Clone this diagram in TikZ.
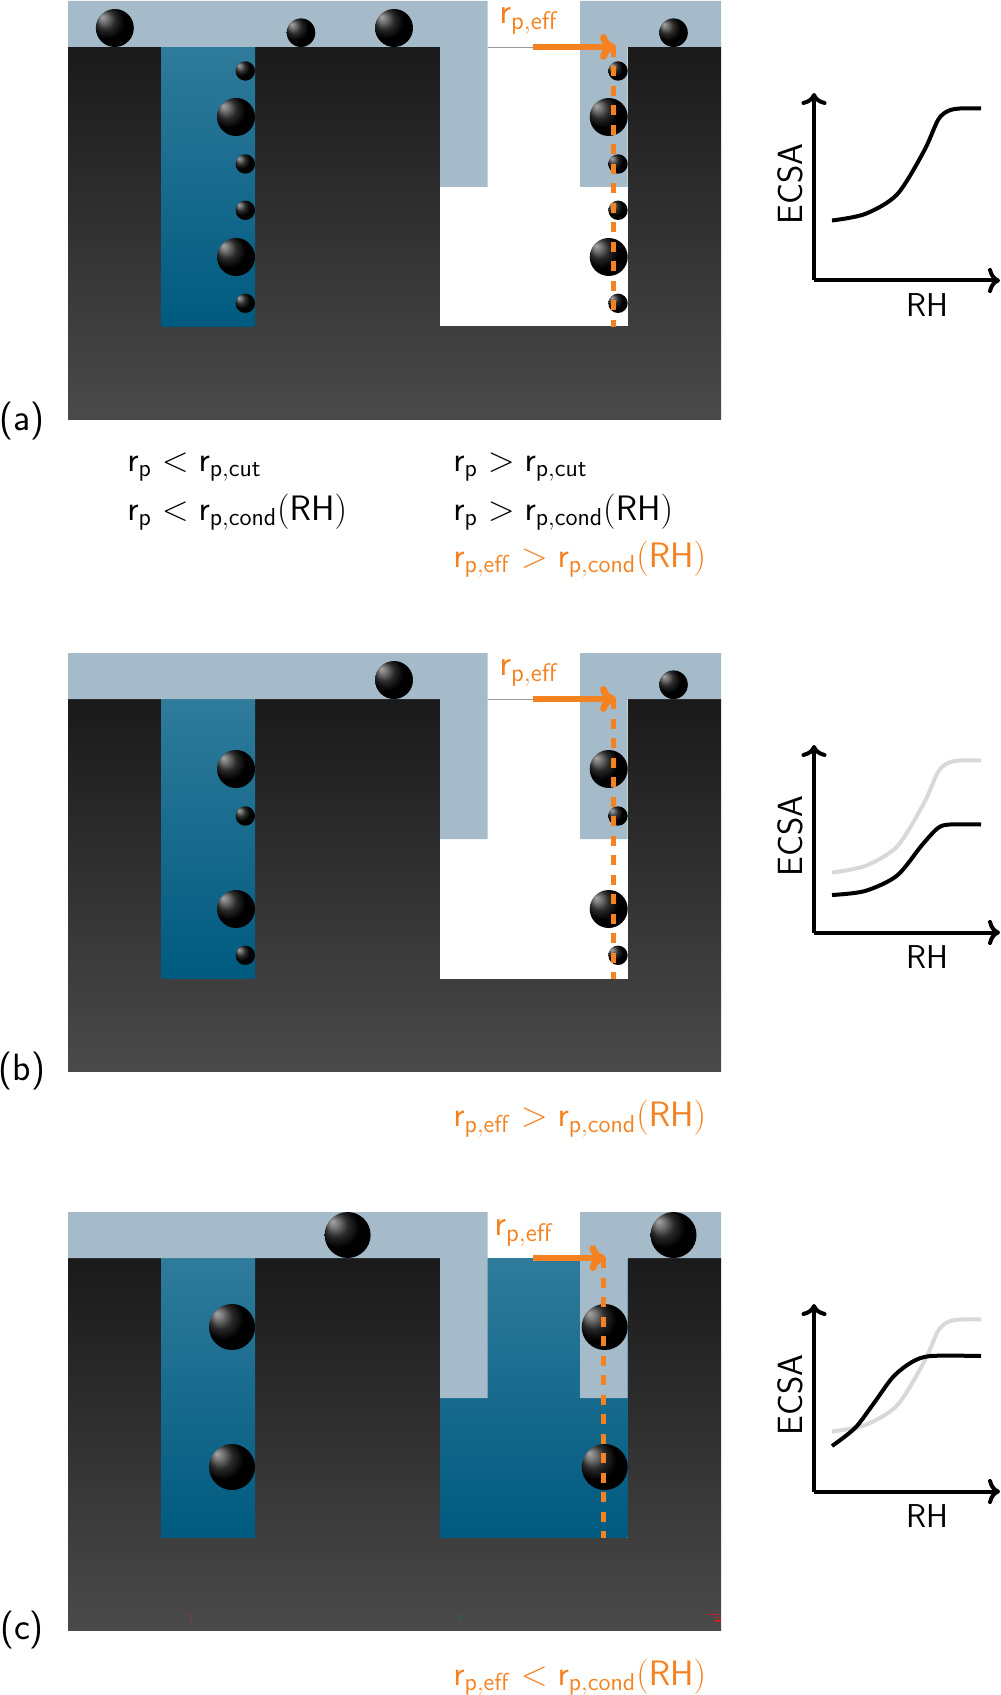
\documentclass[tikz,border=0pt]{standalone}
\usepackage{amsmath}
\usepackage{amssymb}
\usepackage{tikz}
\usetikzlibrary{arrows.meta}
\usepackage{xcolor}
\definecolor{ionomer}{HTML}{A5BBC9}
\definecolor{rpeff}{HTML}{F58220}
\definecolor{curvegray}{HTML}{D8D8D8}
\definecolor{watertop}{HTML}{2F7B9B}
\definecolor{waterbot}{HTML}{005A80}
\pgfdeclareradialshading{sphere}{\pgfpoint{-17bp}{15bp}}{%
  color(0bp)=(black!35!white);
  color(5bp)=(black!52!white);
  color(13bp)=(black!84!white);
  color(22bp)=(black);
  color(50bp)=(black)}
\tikzset{
  carbon/.style={top color=black!90!white, bottom color=black!71!white, draw=none},
  water/.style={top color=watertop, bottom color=waterbot, draw=none},
  sphere/.style={shading=sphere},
  axisline/.style={line width=2pt, ->},
  curveline/.style={line width=2pt, line join=round},
  txt/.style={inner sep=0pt, font=\fontsize{16.5}{18}\selectfont\sffamily},
  cond/.style={inner sep=0pt, anchor=west, scale=1.022, font=\fontsize{17.28}{19}\selectfont},
  efflabel/.style={inner sep=0pt, anchor=west, scale=1.06, text=rpeff, font=\fontsize{17.28}{20}\selectfont},
  panellabel/.style={inner sep=0pt, font=\fontsize{19}{21}\selectfont\sffamily},
  rpline/.style={rpeff, line width=2.8pt, dash pattern=on 5pt off 4.75pt},
  rparrow/.style={rpeff, line width=3.4pt, -{To[round,length=8pt,width=13pt]}},
  speck/.style={line width=0.5pt, opacity=0.7}
}
\newcommand{\carbonbase}{
  \shade [carbon] (68,47) rectangle (721,419.5);
  \fill [white] (440,46) rectangle (627.7,326.5);
  \shade [water] (161,47) rectangle (255,326.5);
}
\newcommand{\ionomerbase}{
  \fill [ionomer] (68,1) -- (487.5,1) -- (487.5,187) -- (440,187) -- (440,47) -- (68,47) -- cycle;
  \fill [ionomer] (580,1) -- (721,1) -- (721,47) -- (627.7,47) -- (627.7,187) -- (580,187) -- cycle;
}
\newcommand{\ecsaaxes}{
  \coordinate (origin) at (814,280.5);
  \coordinate (ytip) at (814,93);
  \coordinate (xtip) at (1000,280.5);
  \draw [axisline] (origin) -- (ytip);
  \draw [axisline] (origin) -- (xtip);
  \node [txt,font=\fontsize{17.5}{19}\selectfont\sffamily,rotate=90] (ecsa) at (790,184) {ECSA};
  \node [txt] (rh) at (927,305) {RH};
}
\newcommand{\firstcurve}[1]{
  \draw [curveline,#1] plot[smooth,tension=0.5] coordinates {(832,220.5) (865,214) (897,194.5) (924,151) (938,120) (948,111) (960,108.5) (981,108.5)};
}

\begin{document}
\begin{tikzpicture}[x=0.5pt,y=-0.5pt]
\useasboundingbox (0,0) rectangle (1000,1695);

% (a)
\carbonbase
\ionomerbase
\foreach \xpos/\ypos/\rad in {114.8/28/19,394/28/19,301/32.7/14.3,673.5/32.7/14.3}
  \shade [sphere] (\xpos,\ypos) circle (\rad);
\foreach \ypos/\rad in {71/9.7,117/19,164/9.7,210.3/9.7,257/19,303.3/9.7}{
  \pgfmathsetmacro{\xleft}{255-\rad}
  \pgfmathsetmacro{\xright}{627.7-\rad}
  \shade [sphere] (\xleft,\ypos) circle (\rad);
  \shade [sphere] (\xright,\ypos) circle (\rad);
}
\coordinate (porea) at (487.5,47);
\coordinate (starta) at (533,47);
\coordinate (tipa) at (616,47);
\coordinate (dashtopa) at (613.3,47);
\coordinate (dashenda) at (613.3,327);
\draw [very thin, black!40] (porea) -- (starta);
\draw [rpline] (dashtopa) -- (dashenda);
\draw [rparrow] (starta) -- (tipa);
\node [efflabel] (effa) at (499,21) {$\mathsf{r_{p{,}eff}}$};
\node [cond] (cuta) at (127,467) {$\mathsf{r_p < r_{p{,}cut}}$};
\node [cond] (condla) at (127,512) {$\mathsf{r_p < r_{p{,}cond}(RH)}$};
\node [cond] (cutb) at (453,467) {$\mathsf{r_p > r_{p{,}cut}}$};
\node [cond] (condrb) at (453,512) {$\mathsf{r_p > r_{p{,}cond}(RH)}$};
\node [cond,text=rpeff] (conda) at (453,559) {$\mathsf{r_{p{,}eff} > r_{p{,}cond}(RH)}$};
\node [panellabel] (laba) at (22,421) {(a)};
\ecsaaxes
\firstcurve{black}

% (b)
\begin{scope}[shift={(0,652)}]
\carbonbase
\ionomerbase
\foreach \xpos/\ypos/\rad in {394/28/19,673.5/32.7/14.3}
  \shade [sphere] (\xpos,\ypos) circle (\rad);
\foreach \ypos/\rad in {117/19,164/9.7,257/19,303.3/9.7}{
  \pgfmathsetmacro{\xleft}{255-\rad}
  \pgfmathsetmacro{\xright}{627.7-\rad}
  \shade [sphere] (\xleft,\ypos) circle (\rad);
  \shade [sphere] (\xright,\ypos) circle (\rad);
}
\coordinate (poreb) at (487.5,47);
\coordinate (startb) at (533,47);
\coordinate (tipb) at (616,47);
\coordinate (dashtopb) at (613.3,47);
\coordinate (dashendb) at (613.3,327);
\draw [very thin, black!40] (poreb) -- (startb);
\draw [rpline] (dashtopb) -- (dashendb);
\draw [rparrow] (startb) -- (tipb);
\node [efflabel] (effb) at (499,21) {$\mathsf{r_{p{,}eff}}$};
\node [cond,text=rpeff] (condb) at (453,466.5) {$\mathsf{r_{p{,}eff} > r_{p{,}cond}(RH)}$};
\node [panellabel] (labb) at (22,419) {(b)};
\ecsaaxes
\firstcurve{curvegray}
\draw [curveline] plot[smooth,tension=0.5] coordinates {(832,243) (865,239) (897,223.6) (922,193) (938,176) (950,172.5) (981,172.5)};
\end{scope}

% (c)
\begin{scope}[shift={(0,1211)}]
\carbonbase
\shade [water] (440,47) rectangle (627.7,326.5);
\ionomerbase
\foreach \xpos in {347.6,673.5}
  \shade [sphere] (\xpos,24) circle (23);
\foreach \ypos in {116,256}{
  \shade [sphere] (232,\ypos) circle (23);
  \shade [sphere] (604.7,\ypos) circle (23);
}
\coordinate (startc) at (533,47);
\coordinate (tipc) at (605.5,47);
\coordinate (dashtopc) at (603.5,47);
\coordinate (dashendc) at (603.5,327);
\draw [rpline] (dashtopc) -- (dashendc);
\draw [rparrow] (startc) -- (tipc);
\node [efflabel] (effc) at (494,22) {$\mathsf{r_{p{,}eff}}$};
\node [cond,text=rpeff] (condc) at (453,466) {$\mathsf{r_{p{,}eff} < r_{p{,}cond}(RH)}$};
\node [panellabel] (labc) at (22,419) {(c)};
\ecsaaxes
\firstcurve{curvegray}
\draw [curveline] plot[smooth,tension=0.5] coordinates {(832,235) (855,217) (874,192) (893,166) (912,151) (931,145) (981,145)};
% stray marks at the lower edge
\draw [speck, red!70!gray] (191,402) -- (191,404) (191,406) -- (191,408) (191,410) -- (191,411);
\draw [speck, teal] (460,403) -- (460,410);
\draw [speck, red!80!gray] (707,403) -- (721,403) (715,406) -- (721,406);
\fill [red!80!gray] (715,408.5) rectangle (721,411);
\end{scope}

\end{tikzpicture}
\end{document}
